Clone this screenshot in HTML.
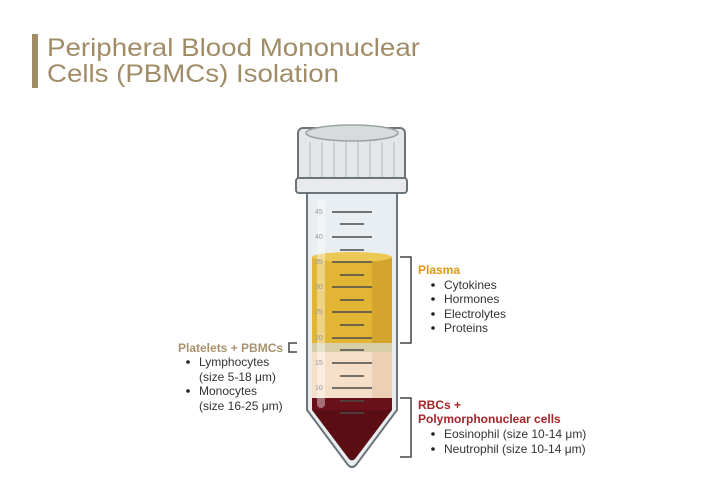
<!DOCTYPE html>
<html><head><meta charset="utf-8"><style>
body{margin:0;background:#fff;}
svg{display:block;font-family:"Liberation Sans",sans-serif;}
</style></head><body>
<svg width="720" height="504" viewBox="0 0 720 504" xmlns="http://www.w3.org/2000/svg">
<rect x="32" y="34" width="6" height="54" fill="#a08c66"/>
<text x="47" y="56" font-size="25" fill="#a08c66" textLength="373" lengthAdjust="spacingAndGlyphs">Peripheral Blood Mononuclear</text>
<text x="47" y="82" font-size="25" fill="#a08c66" textLength="292" lengthAdjust="spacingAndGlyphs">Cells (PBMCs) Isolation</text>

<path d="M307,190 L397,190 L397,410 L356,465 Q352,469 348,465 L307,410 Z" fill="#e8eef1" stroke="#6b7479" stroke-width="2"/>
<path d="M312,398 L392,398 L392,410 L355,459 Q352,462 349,459 L312,410 Z" fill="#5a0d12"/>
<rect x="312" y="398" width="80" height="12" fill="#6a1019"/>
<rect x="312" y="352" width="80" height="46" fill="#f6dfc8"/>
<rect x="372" y="352" width="20" height="46" fill="#ecd0b5"/>
<rect x="312" y="343" width="80" height="9" fill="#d8cfa9"/>
<rect x="312" y="257" width="80" height="86" fill="#e2b634"/>
<rect x="372" y="257" width="20" height="86" fill="#d4a52c"/>
<ellipse cx="352" cy="257" rx="40" ry="5" fill="#ecc955"/>
<rect x="317" y="200" width="8" height="208" rx="4" fill="#fff" opacity="0.4"/>
<g stroke="#4a4a4a" stroke-width="1.4" fill="none">
<path d="M332,212 H372 M340,224 H364 M332,237 H372 M340,250 H364 M332,262 H372 M340,275 H364 M332,287 H372 M340,300 H364 M332,312 H372 M340,325 H364 M332,338 H372 M340,350 H364 M332,363 H372 M340,376 H364 M332,388 H372 M340,401 H364 M340,413 H364"/>
</g>
<g font-size="7" fill="#999">
<text x="315" y="214">45</text><text x="315" y="239">40</text><text x="315" y="264">35</text><text x="315" y="289">30</text><text x="315" y="314">25</text><text x="315" y="340">20</text><text x="315" y="365">15</text><text x="315" y="390">10</text>
</g>
<rect x="298" y="128" width="107" height="55" rx="5" fill="#e4e6e7" stroke="#6b7479" stroke-width="2"/>
<g stroke="#b5b9bb" stroke-width="1"><path d="M310,142V180 M322,142V180 M334,142V180 M346,142V180 M358,142V180 M370,142V180 M382,142V180 M394,142V180"/></g>
<ellipse cx="352" cy="133" rx="46" ry="8" fill="#d8dbdc" stroke="#9aa1a4" stroke-width="1.5"/>
<rect x="296" y="178" width="111" height="15" rx="3" fill="#e8eaeb" stroke="#6b7479" stroke-width="2"/>

<g stroke="#444" stroke-width="1.5" fill="none">
<path d="M400,257 H411 V343 H400"/>
<path d="M297,343 H289 V352 H297"/>
<path d="M400,398 H411 V457 H400"/>
</g>

<g font-size="12" fill="#333">
<text x="418" y="274" fill="#e0960e" font-weight="bold">Plasma</text>
<text x="444" y="289">Cytokines</text>
<text x="444" y="303">Hormones</text>
<text x="444" y="318">Electrolytes</text>
<text x="444" y="332">Proteins</text>
<circle cx="433" cy="285" r="1.8" fill="#222"/><circle cx="433" cy="299" r="1.8" fill="#222"/><circle cx="433" cy="314" r="1.8" fill="#222"/><circle cx="433" cy="328" r="1.8" fill="#222"/>

<text x="178" y="352" fill="#a8926e" font-weight="bold">Platelets + PBMCs</text>
<text x="199" y="366">Lymphocytes</text>
<text x="199" y="381">(size 5-18 μm)</text>
<text x="199" y="395">Monocytes</text>
<text x="199" y="410">(size 16-25 μm)</text>
<circle cx="188" cy="362" r="1.8" fill="#222"/><circle cx="188" cy="391" r="1.8" fill="#222"/>

<text x="418" y="409" fill="#a3262a" font-weight="bold">RBCs +</text>
<text x="418" y="423" fill="#a3262a" font-weight="bold">Polymorphonuclear cells</text>
<text x="444" y="438">Eosinophil (size 10-14 μm)</text>
<text x="444" y="453">Neutrophil (size 10-14 μm)</text>
<circle cx="433" cy="434" r="1.8" fill="#222"/><circle cx="433" cy="449" r="1.8" fill="#222"/>
</g>
</svg>
</body></html>
